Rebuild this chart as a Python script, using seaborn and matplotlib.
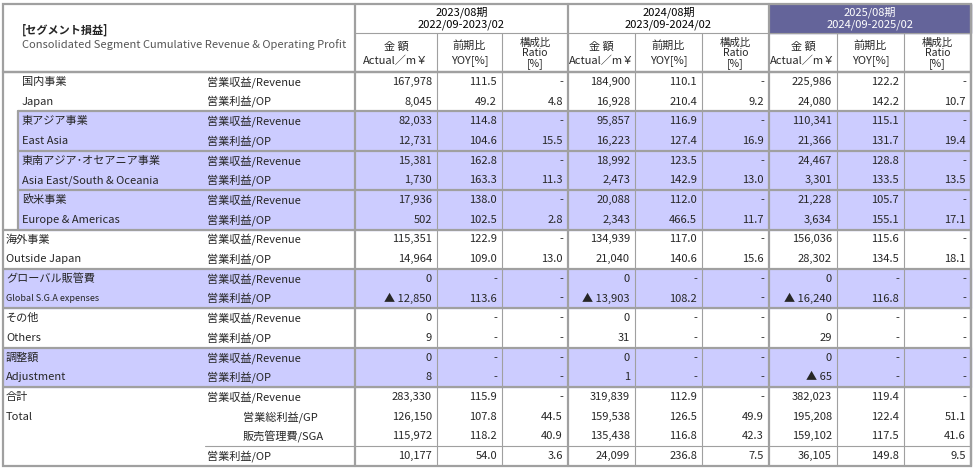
import matplotlib
matplotlib.use("Agg")
import matplotlib.pyplot as plt
import seaborn as sns
from matplotlib.patches import Rectangle

sns.set_theme(style="white")
plt.rcParams['font.family'] = ['Noto Sans CJK JP', 'DejaVu Sans']

periods = ["2023/08期\n2022/09-2023/02", "2024/08期\n2023/09-2024/02", "2025/08期\n2024/09-2025/02"]
sub_headers = ["金 額\nActual／m￥", "前期比\nYOY[%]", "構成比\nRatio\n[%]"]

seg_jp = ["国内事業", "東アジア事業", "東南アジア･オセアニア事業", "欧米事業", "海外事業", "グローバル販管費", "その他", "調整額", "合計"]
seg_en = ["Japan", "East Asia", "Asia East/South & Oceania", "Europe & Americas", "Outside Japan",
          "Global S.G.A expenses", "Others", "Adjustment", "Total"]
item_labels = [["営業収益/Revenue", "営業利益/OP"]] * 8 + [["営業収益/Revenue", "営業総利益/GP", "販売管理費/SGA", "営業利益/OP"]]

japan_rev = ["167,978", "111.5", "-", "184,900", "110.1", "-", "225,986", "122.2", "-"]
japan_op = ["8,045", "49.2", "4.8", "16,928", "210.4", "9.2", "24,080", "142.2", "10.7"]
eastasia_rev = ["82,033", "114.8", "-", "95,857", "116.9", "-", "110,341", "115.1", "-"]
eastasia_op = ["12,731", "104.6", "15.5", "16,223", "127.4", "16.9", "21,366", "131.7", "19.4"]
sea_rev = ["15,381", "162.8", "-", "18,992", "123.5", "-", "24,467", "128.8", "-"]
sea_op = ["1,730", "163.3", "11.3", "2,473", "142.9", "13.0", "3,301", "133.5", "13.5"]
europe_rev = ["17,936", "138.0", "-", "20,088", "112.0", "-", "21,228", "105.7", "-"]
europe_op = ["502", "102.5", "2.8", "2,343", "466.5", "11.7", "3,634", "155.1", "17.1"]
outside_rev = ["115,351", "122.9", "-", "134,939", "117.0", "-", "156,036", "115.6", "-"]
outside_op = ["14,964", "109.0", "13.0", "21,040", "140.6", "15.6", "28,302", "134.5", "18.1"]
global_rev = ["0", "-", "-", "0", "-", "-", "0", "-", "-"]
global_op = ["▲ 12,850", "113.6", "-", "▲ 13,903", "108.2", "-", "▲ 16,240", "116.8", "-"]
others_rev = ["0", "-", "-", "0", "-", "-", "0", "-", "-"]
others_op = ["9", "-", "-", "31", "-", "-", "29", "-", "-"]
adj_rev = ["0", "-", "-", "0", "-", "-", "0", "-", "-"]
adj_op = ["8", "-", "-", "1", "-", "-", "▲ 65", "-", "-"]
total_rev = ["283,330", "115.9", "-", "319,839", "112.9", "-", "382,023", "119.4", "-"]
total_gp = ["126,150", "107.8", "44.5", "159,538", "126.5", "49.9", "195,208", "122.4", "51.1"]
total_sga = ["115,972", "118.2", "40.9", "135,438", "116.8", "42.3", "159,102", "117.5", "41.6"]
total_op = ["10,177", "54.0", "3.6", "24,099", "236.8", "7.5", "36,105", "149.8", "9.5"]

groups = [[japan_rev, japan_op], [eastasia_rev, eastasia_op], [sea_rev, sea_op], [europe_rev, europe_op],
          [outside_rev, outside_op], [global_rev, global_op], [others_rev, others_op], [adj_rev, adj_op],
          [total_rev, total_gp, total_sga, total_op]]
shaded = [False, True, True, True, False, True, False, True, False]
indented = [False, True, True, True, False, False, False, False, False]

W, H = 977, 469
fig = plt.figure(figsize=(W / 100, H / 100), dpi=100)
ax = fig.add_axes([0, 0, 1, 1])
ax.set_xlim(0, W)
ax.set_ylim(H, 0)
ax.axis("off")

LAV = "#ccccff"
DARK = "#64649a"
GRID = "#a0a0a0"
FS = 8
col_x = [355, 437, 502, 568, 635, 702, 769, 837, 904, 971]
L, R = 3, 971
top, band, hdr = 4, 33, 72
rh = (466 - hdr) / 20.0

# header
ax.add_patch(Rectangle((col_x[6], top), col_x[9] - col_x[6], band - top, color=DARK, zorder=0))
for p in range(3):
    xc = (col_x[3 * p] + col_x[3 * p + 3]) / 2
    ax.text(xc, (top + band) / 2, periods[p], ha="center", va="center", fontsize=FS,
            color="white" if p == 2 else "black", linespacing=1.25)
    for k in range(3):
        x0, x1 = col_x[3 * p + k], col_x[3 * p + k + 1]
        ax.text((x0 + x1) / 2, (band + hdr) / 2 + 1, sub_headers[k], ha="center", va="center",
                fontsize=FS if k < 2 else 7.5, linespacing=1.5 if k < 2 else 1.05)
ax.text(22, 30, "[セグメント損益]", fontsize=FS, fontweight="bold", va="center")
ax.text(22, 45, "Consolidated Segment Cumulative Revenue & Operating Profit", fontsize=FS,
        color="#555555", va="center")

# body
row = 0
for g, rows in enumerate(groups):
    y0 = hdr + row * rh
    n = len(rows)
    y1 = y0 + n * rh
    xl = 18 if indented[g] else L
    if shaded[g]:
        ax.add_patch(Rectangle((xl, y0), R - xl, y1 - y0, color=LAV, zorder=0))
    ax.plot([xl, R], [y0, y0], color=GRID, lw=1.6, zorder=2)
    if indented[g]:
        ax.plot([xl, xl], [y0, y1], color=GRID, lw=1.6, zorder=2)
    tx = xl + 4 if indented[g] else 22 if g == 0 else 6
    if g in (0,):
        tx = 22
    ax.text(tx, y0 + rh / 2, seg_jp[g], fontsize=FS, va="center")
    ax.text(tx, y0 + 1.5 * rh, seg_en[g], fontsize=6.5 if g == 5 else FS, va="center")
    for i, vals in enumerate(rows):
        yc = y0 + (i + 0.5) * rh
        lab = item_labels[g][i]
        lx = 243 if (g == 8 and i in (1, 2)) else 207
        ax.text(lx, yc, lab, fontsize=FS, va="center")
        for j, v in enumerate(vals):
            ax.text(col_x[j + 1] - 5, yc, v, fontsize=FS, va="center", ha="right")
    if g == 8:
        yl = y0 + 3 * rh
        ax.plot([205, R], [yl, yl], color=GRID, lw=0.8)
    row += n

# grid lines
ax.plot([L, R], [hdr, hdr], color=GRID, lw=1.6)
for k, x in enumerate(col_x):
    yt = top if k % 3 == 0 else band
    ax.plot([x, x], [yt, 466], color=GRID, lw=1.6 if k % 3 == 0 else 0.8)
for p in range(3):
    ax.plot([col_x[3 * p], col_x[3 * p + 3]], [band, band], color=GRID, lw=0.8)
ax.add_patch(Rectangle((L, top), R - L, 466 - top, fill=False, ec=GRID, lw=1.6))

fig.savefig("out.png", dpi=100, facecolor="white")
